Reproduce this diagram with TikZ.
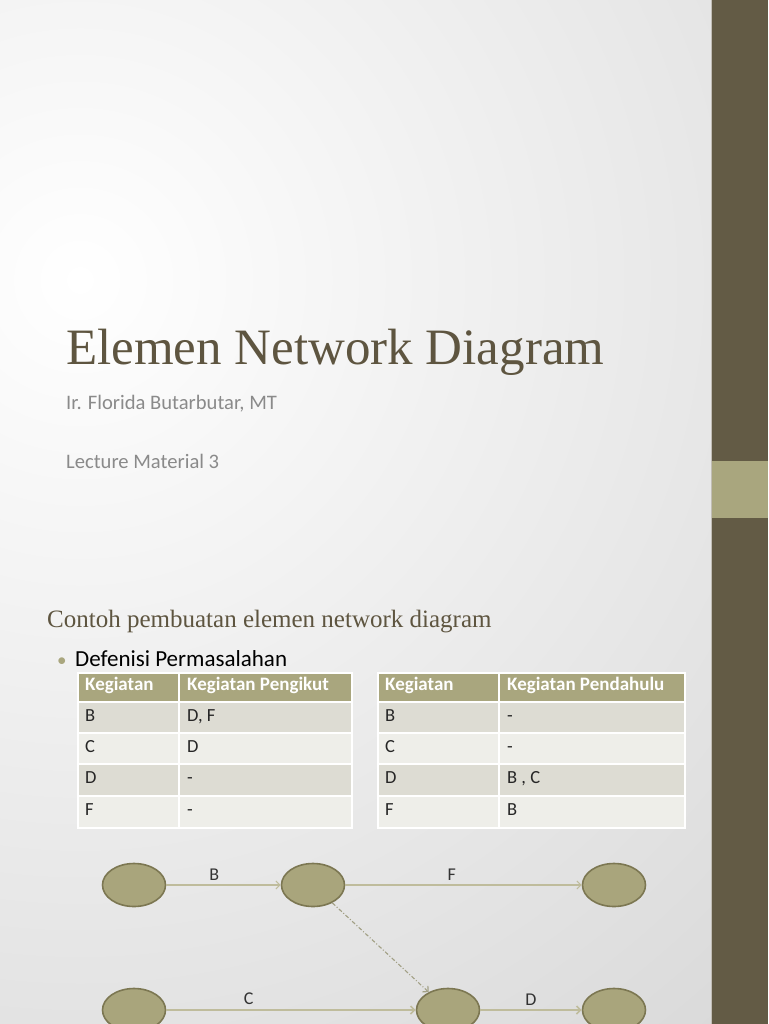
\documentclass[tikz,border=0pt]{standalone}
\usepackage{fontspec}
\setmainfont{Carlito}
\newfontfamily\seriffont{Liberation Serif}
\usetikzlibrary{arrows.meta,positioning,shapes.geometric}
\definecolor{olivedark}{HTML}{635B45}
\definecolor{olivelight}{HTML}{A9A67E}
\definecolor{titlebrown}{HTML}{5E5540}
\definecolor{subgray}{HTML}{8A8A8A}
\definecolor{rowdark}{HTML}{DDDCD3}
\definecolor{rowlight}{HTML}{EEEEE9}
\definecolor{nodefill}{HTML}{A9A57C}
\definecolor{nodeedge}{HTML}{7C7752}
\definecolor{arrowcol}{HTML}{BFBC9C}
\tikzset{
  event/.style={ellipse,draw=nodeedge,fill=nodefill,line width=1.6pt,
    minimum width=63pt,minimum height=43pt,inner sep=0pt},
  act/.style={draw=arrowcol,line width=1.1pt,-{Straight Barb[length=4pt,width=8pt]}},
  dummy/.style={act,draw=arrowcol!85!black,dash pattern=on 4pt off 2pt on 1pt off 2pt},
  lbl/.style={font=\fontsize{18}{21}\selectfont,text=black!80,inner sep=1pt},
  cell/.style={anchor=base west,inner sep=0pt,font=\fontsize{18.5}{22}\selectfont,text=black!85},
  head/.style={cell,text=white,font=\fontsize{19}{22}\selectfont\bfseries},
}
\begin{document}
\begin{tikzpicture}[x=1pt,y=-1pt]
	\useasboundingbox(0,0)rectangle(768,1024);
	% background
	\begin{scope}
		\clip(0,0)rectangle(711,1024);
		\shade[inner color=white,outer color=black!17](80,280)circle(1150);
	\end{scope}
	\fill[olivedark](711,0)rectangle(768,1024);
	\fill[olivelight](711,461)rectangle(768,518);
	\draw[white!60!olivedark,line width=.8pt](711.4,0)--(711.4,1024);
	% titles
	\node[anchor=base west,inner sep=0pt,font=\seriffont\fontsize{51}{56}\selectfont,text=titlebrown](title)at(66,364){Elemen Network Diagram};
	\node[anchor=base west,inner sep=0pt,font=\fontsize{20.6}{24}\selectfont,text=subgray](author)at(66,409){Ir. Florida Butarbutar, MT};
	\node[anchor=base west,inner sep=0pt,font=\fontsize{20.6}{24}\selectfont,text=subgray](lecture)at(66,468){Lecture Material 3};
	\node[anchor=base west,inner sep=0pt,font=\seriffont\fontsize{25}{30}\selectfont,text=titlebrown](heading)at(47,627){Contoh pembuatan elemen network diagram};
	\node[anchor=base west,inner sep=0pt,font=\fontsize{19}{24}\selectfont,text=olivelight](bullet)at(57,666){•};
	\node[anchor=base west,inner sep=0pt,font=\fontsize{23}{26}\selectfont,text=black](problem)at(75,666){Defenisi Permasalahan};
	% tables
	\foreach\t/\b/\c in{673/702/olivelight,702/733/rowdark,733/764/rowlight,764/796/rowdark,796/828/rowlight}{
		\fill[\c,draw=white,line width=1.5pt](78,\t)rectangle(179,\b) (179,\t)rectangle(352,\b);
		\fill[\c,draw=white,line width=1.5pt](378,\t)rectangle(499,\b) (499,\t)rectangle(685,\b);
	}
	\node[head](lh1)at(85,690){Kegiatan};
	\node[head](lh2)at(187,690){Kegiatan Pengikut};
	\node[head](rh1)at(385,690){Kegiatan};
	\node[head](rh2)at(507,690){Kegiatan Pendahulu};
	\foreach\y/\a/\b/\p [count=\i] in{721/B/{D, F}/-,752/C/D/-,783/D/-/{B , C},815/F/-/B}{
		\node[cell](la\i)at(85,\y){\a};
		\node[cell](lb\i)at(187,\y){\b};
		\node[cell](ra\i)at(385,\y){\a};
		\node[cell](rb\i)at(507,\y){\p};
	}
	% network
	\node[event](e1)at(134,885){};
	\node[event](e2)at(313,885){};
	\node[event](e3)at(614,885){};
	\node[event](e4)at(134,1010){};
	\node[event](e5)at(448,1010){};
	\node[event](e6)at(614,1010){};
	\draw[act](e1)--node[lbl,above=3pt,pos=.42]{B}(e2);
	\draw[act](e2)--node[lbl,above=3pt,pos=.45]{F}(e3);
	\draw[act,line width=1.7pt](e4)--node[lbl,above=4pt,pos=.33]{C}(e5);
	\draw[act,line width=1.7pt](e5)--node[lbl,above=3pt]{D}(e6);
	\draw[dummy](e2)--(e5);
\end{tikzpicture}
\end{document}
